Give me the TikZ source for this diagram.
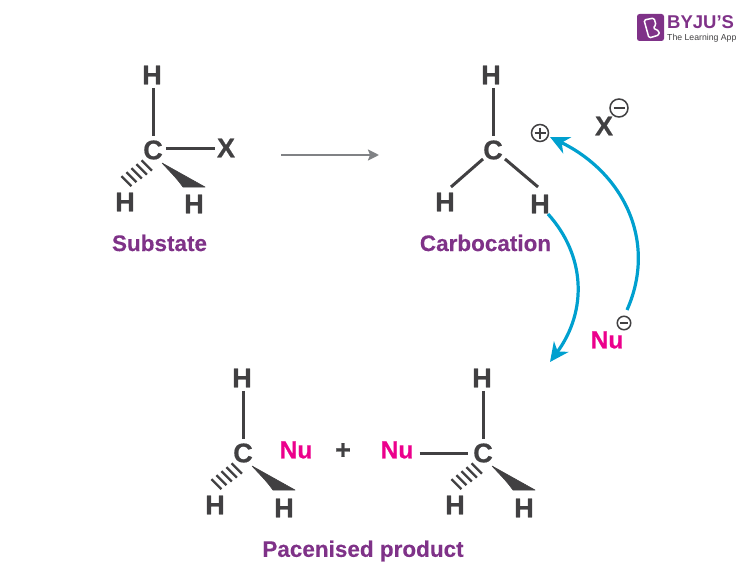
\documentclass[tikz,border=0pt]{standalone}
\usepackage{fontspec}
\setmainfont{Liberation Sans}
\newfontfamily\heavy[FakeBold=0.6]{Liberation Sans Bold}
\newfontfamily\medheavy[FakeBold=0.2]{Liberation Sans Bold}
\usetikzlibrary{arrows.meta,calc}
\definecolor{ink}{HTML}{414042}
\definecolor{plum}{HTML}{7F3288}
\definecolor{pinkish}{HTML}{EC008C}
\definecolor{cyanish}{HTML}{00A0CF}
\definecolor{arrowgray}{HTML}{808285}
\tikzset{
  atom/.style={inner sep=0pt,text=ink,font=\fontsize{27}{27}\selectfont\heavy},
  nuc/.style={inner sep=0pt,text=pinkish,font=\fontsize{24.5}{24}\selectfont\heavy},
  heading/.style={inner sep=0pt,text=plum,font=\fontsize{22.5}{24}\selectfont\medheavy},
  bond/.style={draw=ink,line width=3pt},
  wedgefill/.style={fill=ink,draw=ink,line width=0.6pt,line join=round},
  hashline/.style={draw=ink,line width=2.3pt},
  chg/.style={draw=ink,line width=1.5pt,circle,fill=white,inner sep=0pt},
  signline/.style={draw=ink,line width=1.6pt},
  curly/.style={draw=cyanish,line width=3.2pt,-{Stealth[length=19pt,width=18pt,inset=6pt]}},
  straightarrow/.style={draw=arrowgray,line width=2.6pt,-{Stealth[length=11pt,width=11pt,inset=2pt]}}
}
% hashed bond: #1 = carbon node
\newcommand{\hashbond}[1]{%
  \foreach \k/\s in {0/5.2,1/5.2,2/5.2,3/5,4/5}{%
    \draw[hashline] ($(#1)+(-6.2-5.1*\k-\s,15.5+3.9*\k-\s)$) -- ($(#1)+(-6.2-5.1*\k+\s,15.5+3.9*\k+\s)$);}}
\newcommand{\wedgebond}[1]{%
  \filldraw[wedgefill] ($(#1)+(9,13)$) -- ($(#1)+(52,37)$) -- ($(#1)+(30,37)$) .. controls ($(#1)+(24,29)$) .. cycle;}
\begin{document}
\begin{tikzpicture}[x=1pt,y=-1pt]
\useasboundingbox (0,0) rectangle (750,578);
% logo
\fill[plum,rounded corners=2.5pt] (637,14) rectangle (664,41);
\draw[white,line width=1.5pt,line join=round,rounded corners=1.5pt] (644,20) -- (654,18) -- (656,25) -- (653,28) -- (659,31) -- (659,35) -- (649,38) -- cycle;
\node[anchor=base west,inner sep=0pt,text=plum,font=\fontsize{18.5}{18}\selectfont\bfseries] (brand) at (667,29) {BYJU'S};
\node[anchor=base west,inner sep=0pt,text=ink,font=\fontsize{8.7}{10}\selectfont] (tag) at (667,40.5) {The Learning App};
% substrate
\node[atom] (a1) at (152,75) {H};
\node[atom] (c1) at (153,150) {C};
\node[atom] (x1) at (226,148) {X};
\node[atom] (a2) at (125,202) {H};
\node[atom] (a3) at (194,204) {H};
\draw[bond] ([yshift=-3.5pt]a1.south-|c1) -- ([yshift=4pt]c1.north);
\draw[bond] ([xshift=3pt]c1.east|-x1) -- ([xshift=-2pt]x1.west);
\hashbond{c1}
\wedgebond{c1}
\node[heading] (s1) at (159.5,243) {Substate};
% reaction arrow
\coordinate (ra) at (281,155);
\coordinate (rb) at (379,155);
\draw[straightarrow] (ra) -- (rb);
% carbocation
\node[atom] (b1) at (491,75) {H};
\node[atom] (c2) at (493,150) {C};
\node[atom] (b2) at (445,202) {H};
\node[atom] (b3) at (540,204) {H};
\draw[bond] ([yshift=-3.5pt]b1.south-|c2) -- ([yshift=4pt]c2.north);
\coordinate (l2) at (451,187);
\coordinate (l3) at (538,187);
\draw[bond] ($(c2)+(-10,9)$) -- (l2);
\draw[bond] ($(c2)+(12,9)$) -- (l3);
\node[heading] (s2) at (485.5,243) {Carbocation};
\node[chg,minimum size=17pt] (plus) at (540,133) {};
\draw[signline] ($(plus)+(-5.5,0)$) -- ($(plus)+(5.5,0)$) ($(plus)+(0,-5.5)$) -- ($(plus)+(0,5.5)$);
\node[atom] (x2) at (604,126) {X};
\node[chg,minimum size=18pt] (xm) at (619,108) {};
\draw[signline] ($(xm)+(-5.5,0)$) -- ($(xm)+(5.5,0)$);
\node[nuc] (nu) at (607,340) {Nu};
\node[chg,minimum size=13.5pt] (num) at (624,323) {};
\draw[signline] ($(num)+(-4,0)$) -- ($(num)+(4,0)$);
\coordinate (t1) at (627,310);
\coordinate (t2) at (548,214);
\coordinate (t3) at (550,362);
\coordinate (t4) at (550,137);
\draw[curly] (t1) .. controls (658,240) and (622,172) .. (t4);
\draw[curly] (t2) .. controls (585,255) and (588,310) .. (t3);
% products
\node[atom] (d1) at (242,378) {H};
\node[atom] (c3) at (243,453) {C};
\node[atom] (d2) at (215,505) {H};
\node[atom] (d3) at (284,508) {H};
\draw[bond] ([yshift=-3.5pt]d1.south-|c3) -- ([yshift=4pt]c3.north);
\hashbond{c3}
\wedgebond{c3}
\node[nuc] (nu1) at (296,450) {Nu};
\node[atom] (pl) at (343,451) {+};
\node[nuc] (nu2) at (397,450) {Nu};
\node[atom] (e1) at (482,378) {H};
\node[atom] (c4) at (483,453) {C};
\node[atom] (e2) at (455,505) {H};
\node[atom] (e3) at (524,508) {H};
\draw[bond] ([yshift=-3.5pt]e1.south-|c4) -- ([yshift=4pt]c4.north);
\draw[bond] ([xshift=6pt]nu2.east|-c4) -- ([xshift=-5pt]c4.west);
\hashbond{c4}
\wedgebond{c4}
\node[heading] (s3) at (363,551) {Pacenised product};
\end{tikzpicture}
\end{document}
